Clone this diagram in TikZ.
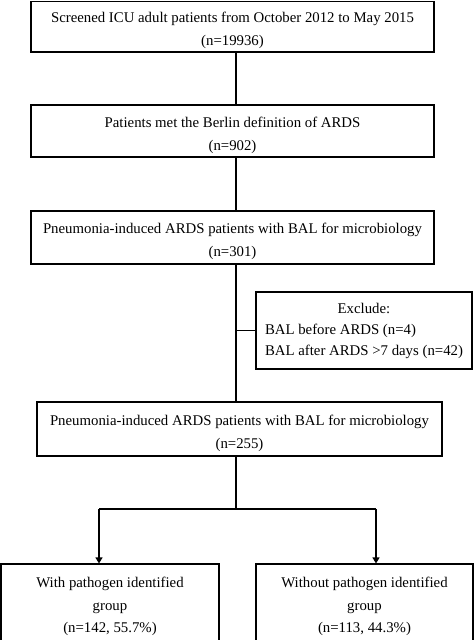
\documentclass[tikz,border=0pt]{standalone}
\usepackage{fontspec}
\setmainfont{Liberation Serif}
\usetikzlibrary{arrows.meta}
\newcommand{\topstrut}{\rule{0pt}{18.5pt}}
\newcommand{\grpstrut}{\rule{0pt}{14.5pt}}
\begin{document}
\begin{tikzpicture}[x=1pt,y=-1pt,
  box/.style={draw, line width=1.1pt, align=center, inner sep=0pt,
    font=\fontsize{14.8}{23}\selectfont},
  grpbox/.style={box, font=\fontsize{14.8}{22.5}\selectfont},
  link/.style={line width=1.1pt},
  arr/.style={line width=1.1pt, -{Triangle[length=6pt,width=7pt]}}]
\useasboundingbox (0,0) rectangle (474,640);
\coordinate (spine) at (236,0);
\node[box, minimum width=403pt, minimum height=50.5pt] (b1) at (232.5,26.75)
  {\topstrut Screened ICU adult patients from October 2012 to May 2015\\(n=19936)};
\node[box, minimum width=403pt, minimum height=52pt] (b2) at (232.5,131)
  {\topstrut Patients met the Berlin definition of ARDS\\(n=902)};
\node[box, minimum width=403pt, minimum height=53pt] (b3) at (232.5,237.5)
  {\topstrut Pneumonia-induced ARDS patients with BAL for microbiology\\(n=301)};
\node[box, minimum width=216pt, minimum height=77pt, font=\fontsize{14.8}{21}\selectfont] (ex) at (364,330.5)
  {\begin{tabular}{@{}l@{}}\multicolumn{1}{@{}c@{}}{Exclude:}\\BAL before ARDS (n=4)\\BAL after ARDS >7 days (n=42)\end{tabular}};
\node[box, minimum width=405pt, minimum height=54pt] (b4) at (239.5,429)
  {\topstrut Pneumonia-induced ARDS patients with BAL for microbiology\\(n=255)};
\node[grpbox, minimum width=218pt, minimum height=81pt] (g1) at (110,604.5)
  {\grpstrut With pathogen identified\\group\\(n=142, 55.7\%)};
\node[grpbox, minimum width=217pt, minimum height=81pt] (g2) at (364.5,604.5)
  {\grpstrut Without pathogen identified\\group\\(n=113, 44.3\%)};
\coordinate (fork) at (236,509);
\coordinate (fl) at (99,509);
\coordinate (fr) at (376,509);
\draw[link] (b1.south -| spine) -- (b2.north -| spine);
\draw[link] (b2.south -| spine) -- (b3.north -| spine);
\draw[link] (b3.south -| spine) -- (b4.north -| spine);
\draw[link] (spine |- ex.west) -- (ex.west);
\draw[link] (b4.south -| spine) -- (fork);
\draw[link] (fl) -- (fr);
\draw[arr] (fl) -- (fl |- g1.north);
\draw[arr] (fr) -- (fr |- g2.north);
\end{tikzpicture}
\end{document}
